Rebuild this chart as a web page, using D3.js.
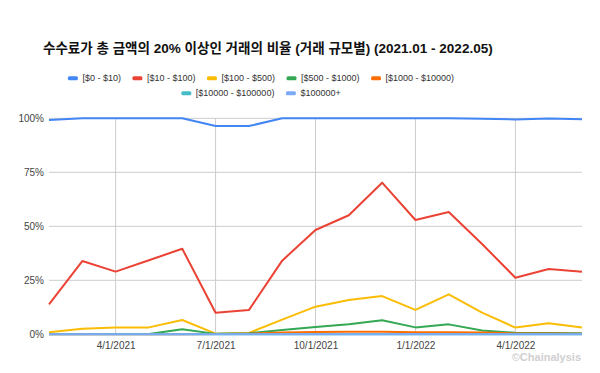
<!DOCTYPE html>
<html><head><meta charset="utf-8">
<script src="https://cdn.jsdelivr.net/npm/d3@7"></script>
<style>body{margin:0;background:#fff}svg{display:block}</style>
</head><body>
<svg id="c" width="600" height="373"></svg>
<script>
const months = ["2021-01","2021-02","2021-03","2021-04","2021-05","2021-06","2021-07","2021-08","2021-09","2021-10","2021-11","2021-12","2022-01","2022-02","2022-03","2022-04","2022-05"];
const tickLabels = [null,null,"4/1/2021",null,null,"7/1/2021",null,null,"10/1/2021",null,null,"1/1/2022",null,null,"4/1/2022",null,null];
const seriesNames = ["[$0 - $10)","[$10 - $100)","[$100 - $500)","[$500 - $1000)","[$1000 - $10000)","[$10000 - $100000)","$100000+"];
const seriesColors = ["#4285F4","#EA4335","#FBBC04","#34A853","#FF6D01","#46BDC6","#7BAAF7"];
const s0 = [99.2,100,100,100,100,96.4,96.4,100,100,100,100,100,100,99.8,99.5,99.9,99.6];
const s1 = [13.9,33.9,29.0,34.3,39.6,10.0,11.2,34.1,48.3,55.1,70.2,52.9,56.6,41.8,26.2,30.2,29.0];
const s2 = [0.9,2.6,3.2,3.2,6.6,0.3,0.6,6.8,12.8,15.9,17.7,11.3,18.5,10.0,3.1,5.1,3.1];
const s3 = [0.1,0.1,0.1,0.1,2.3,0.2,0.5,2.0,3.4,4.6,6.5,3.2,4.6,1.8,0.7,0.6,0.5];
const s4 = [0,0,0,0,0,0.1,0.3,0.8,1.1,1.2,1.2,1.0,1.0,0.8,0.4,0.4,0.3];
const s5 = [0,0,0,0,0,0,0,0,0,0,0,0,0,0,0,0,0];
const s6 = [0,0,0,0,0,0,0,0,0,0,0,0,0,0,0,0,0];
const yTicks = [0,25,50,75,100];
const series = [s0,s1,s2,s3,s4,s5,s6];

const svg = d3.select("#c");
svg.append("rect").attr("width",600).attr("height",373).attr("fill","#fff");
const L=49, R=582, T=118.3, B=334.3;
const x = d3.scalePoint().domain(months).range([L,R]);
const y = d3.scaleLinear().domain([0,100]).range([B,T]);
const font = "Arial, 'Liberation Sans', 'Noto Sans CJK KR', sans-serif";

// gridlines
const g = svg.append("g");
g.selectAll("line.h").data(yTicks).join("line")
  .attr("x1",L).attr("x2",R).attr("y1",d=>y(d)).attr("y2",d=>y(d))
  .attr("stroke","#cccccc").attr("stroke-width",1);
const vt = months.filter((m,i)=>tickLabels[i]);
g.selectAll("line.v").data(vt).join("line")
  .attr("x1",d=>x(d)).attr("x2",d=>x(d)).attr("y1",T).attr("y2",B)
  .attr("stroke","#cccccc").attr("stroke-width",1);

// axes
const yAxis = d3.axisLeft(y).tickValues(yTicks).tickFormat(d=>d+"%").tickSize(0).tickPadding(5);
const ya = svg.append("g").attr("transform",`translate(${L},0)`).call(yAxis);
ya.select(".domain").remove();
ya.selectAll("text").attr("font-family",font).attr("font-size",10).attr("fill","#444");
const xAxis = d3.axisBottom(x).tickValues(vt).tickFormat(d=>tickLabels[months.indexOf(d)]).tickSize(0).tickPadding(8);
const xa = svg.append("g").attr("transform",`translate(0,${B})`).call(xAxis);
xa.select(".domain").remove();
xa.selectAll("text").attr("font-family",font).attr("font-size",10).attr("fill","#444");

// lines
const line = d3.line().x((d,i)=>x(months[i])).y(d=>y(d));
series.forEach((s,k)=>{
  svg.append("path").attr("d",line(s)).attr("fill","none")
    .attr("stroke",seriesColors[k]).attr("stroke-width",2).attr("stroke-linejoin","round");
});

// title
const title = svg.append("text").attr("x",43).attr("y",52.5)
  .attr("font-family",font).attr("font-weight","bold").attr("font-size",14).attr("fill","#111")
  .text("수수료가 총 금액의 20% 이상인 거래의 비율 (거래 규모별) (2021.01 - 2022.05)");
const tw = title.node().getComputedTextLength();
title.attr("font-size", 14*450/tw);

// legend
const rows = [[0,1,2,3,4],[5,6]];
const rowY = [78.3,93.3];
const lg = svg.append("g");
rows.forEach((r,ri)=>{
  const items = r.map(k=>{
    const t = lg.append("text").attr("font-family",font).attr("font-size",9).attr("fill","#333")
      .attr("y",rowY[ri]).attr("dy","0.35em").text(seriesNames[k]);
    return {k,t,w:t.node().getComputedTextLength()};
  });
  const total = d3.sum(items,d=>10+4.5+d.w) + 11.5*(items.length-1);
  let cx = 261 - total/2;
  items.forEach(it=>{
    lg.append("rect").attr("x",cx).attr("y",rowY[ri]-2).attr("width",10).attr("height",4).attr("rx",1.5)
      .attr("fill",seriesColors[it.k]);
    it.t.attr("x",cx+14.5);
    cx += 14.5 + it.w + 11.5;
  });
});

// watermark
svg.append("text").attr("x",581).attr("y",361).attr("text-anchor","end")
  .attr("font-family",font).attr("font-size",11).attr("font-weight","bold").attr("fill","#d0d0d0")
  .text("©Chainalysis");
</script>
</body></html>
